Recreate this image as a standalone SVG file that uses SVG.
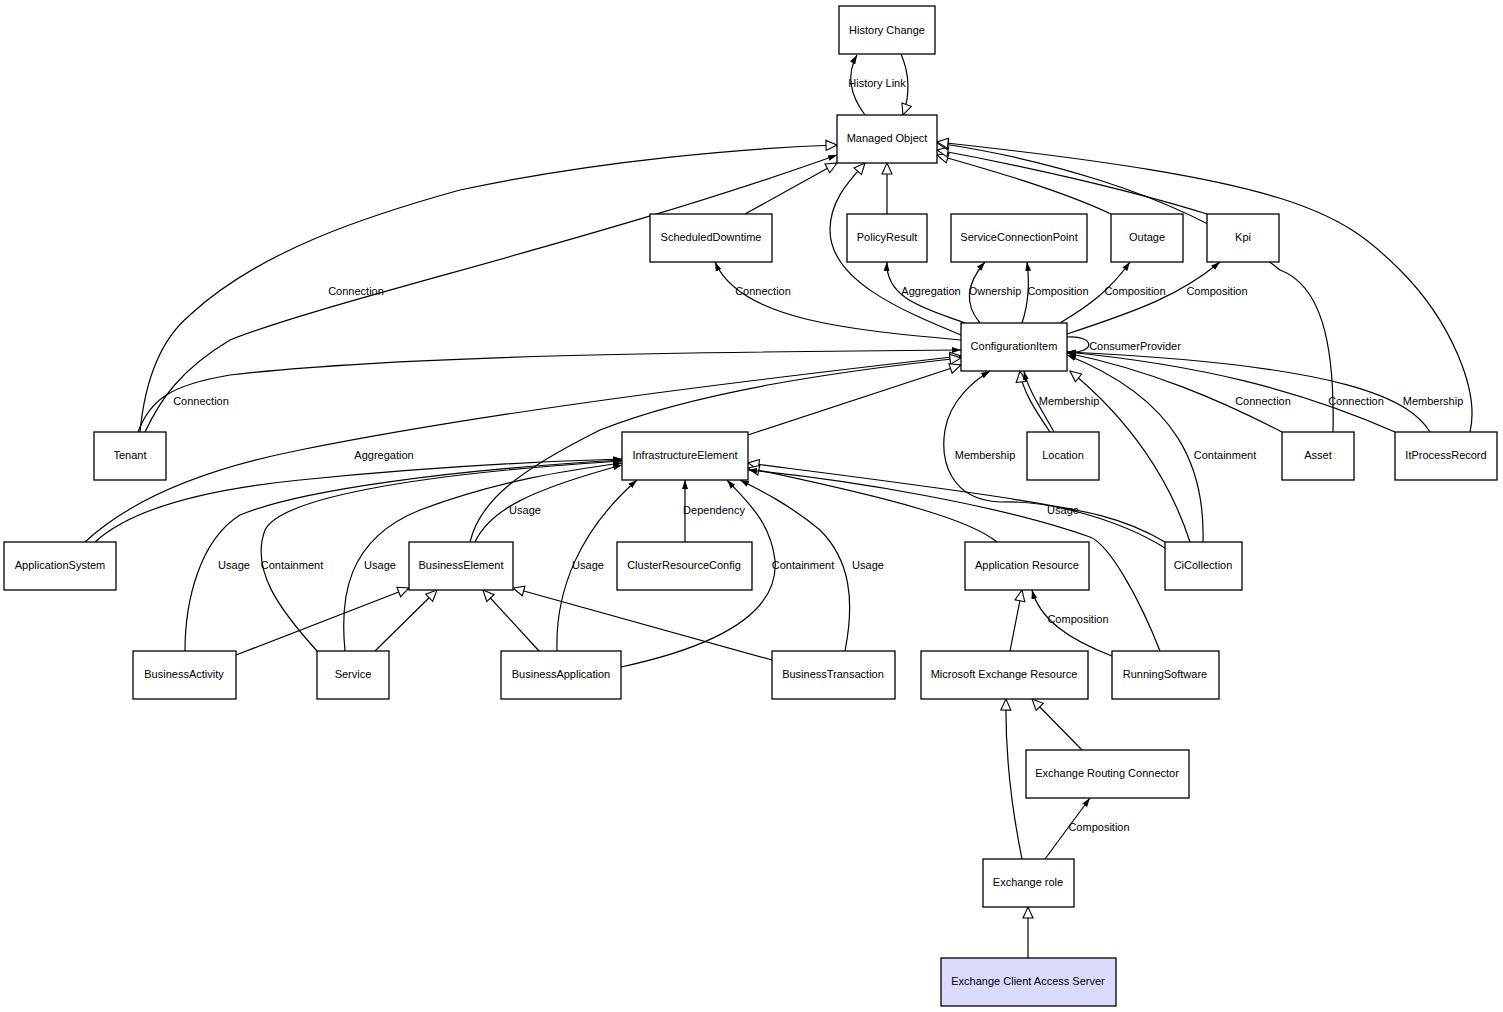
<svg xmlns="http://www.w3.org/2000/svg" width="1503" height="1012" viewBox="0 0 1503 1012">
<style>
.n rect{fill:#fff;stroke:#000;stroke-width:1.3}
.n text,.l{font-family:"Liberation Sans",Arial,sans-serif;font-size:11px;text-anchor:middle;fill:#000}
.e path{fill:none;stroke:#000;stroke-width:1.2}
.g{marker-end:url(#gen)}
.a{marker-end:url(#arr)}
</style>
<defs>
<marker id="gen" markerUnits="userSpaceOnUse" markerWidth="14" markerHeight="14" refX="12" refY="6" orient="auto"><path d="M1,1 L12,6 L1,11 Z" fill="#fff" stroke="#000" stroke-width="1.1"/></marker>
<marker id="arr" markerUnits="userSpaceOnUse" markerWidth="10" markerHeight="8" refX="9" refY="4" orient="auto"><path d="M0,1 L9,4 L0,7 Z" fill="#000"/></marker>
</defs>
<rect width="1503" height="1012" fill="#fff"/>
<g class="e" id="connectors">
<path class="a" d="M865,115 C850,95 846,75 857,55"/>
<path class="g" d="M901,54 C910,75 910,95 903,115"/>
<path class="g" d="M140,432 C145,380 160,340 190,315 C260,250 370,215 460,190 C600,160 750,148 837,145"/>
<path class="a" d="M145,432 C160,400 180,370 230,340 C330,300 600,240 837,155"/>
<path class="g" d="M745,214 L837,163"/>
<path class="g" d="M961,335 C900,310 830,280 830,230 C830,200 850,180 865,163"/>
<path class="g" d="M887,214 L887,163"/>
<path class="g" d="M1111,214 C1060,190 990,170 937,155"/>
<path class="g" d="M1207,214 C1130,190 1020,165 937,150"/>
<path class="g" d="M1333,432 C1335,340 1320,285 1280,270 C1180,190 1020,155 937,143"/>
<path class="g" d="M1470,432 C1480,390 1450,320 1400,270 C1340,210 1290,180 937,142"/>
<path class="a" d="M961,340 C850,330 740,320 715,262"/>
<path class="a" d="M965,323 C930,310 885,300 887,262"/>
<path class="a" d="M980,323 C965,305 965,285 985,262"/>
<path class="a" d="M1022,323 C1028,305 1030,285 1027,262"/>
<path class="a" d="M1060,323 C1090,305 1110,290 1130,262"/>
<path class="a" d="M1067,334 C1140,310 1180,295 1220,262"/>
<path class="a" d="M1067,337 C1095,335 1097,354 1067,352"/>
<path class="a" d="M138,432 C150,400 170,385 230,375 C400,355 700,352 961,350"/>
<path class="g" d="M85,542 C130,500 200,470 300,450 C500,410 750,380 961,356"/>
<path class="g" d="M470,542 C480,500 520,470 600,430 C700,390 850,370 961,358"/>
<path class="g" d="M748,435 L961,365"/>
<path class="g" d="M1050,432 C1035,410 1022,390 1020,371"/>
<path class="a" d="M1054,432 C1042,410 1028,390 1024,371"/>
<path class="a" d="M1165,548 C1120,520 1050,500 1000,502 C950,500 940,460 945,430 C950,400 975,380 990,371"/>
<path class="g" d="M1190,542 C1170,480 1130,420 1070,371"/>
<path class="a" d="M1203,542 C1205,470 1180,400 1067,355"/>
<path class="a" d="M1282,432 C1220,400 1150,370 1067,353"/>
<path class="a" d="M1395,432 C1300,390 1200,365 1067,352"/>
<path class="a" d="M1430,432 C1410,400 1350,365 1067,352"/>
<path class="g" d="M1165,542 C1120,515 1080,510 1000,497 C900,482 800,470 748,463"/>
<path class="g" d="M997,542 C970,520 900,500 748,468"/>
<path class="a" d="M1160,651 C1140,600 1110,545 1090,537 C1000,505 850,480 748,470"/>
<path class="a" d="M845,651 C855,600 850,560 820,530 C790,505 760,490 740,480"/>
<path class="a" d="M621,667 C700,650 780,620 775,560 C770,520 745,500 727,480"/>
<path class="a" d="M557,651 C555,590 580,530 637,480"/>
<path class="a" d="M685,542 L685,480"/>
<path class="a" d="M475,542 C490,510 530,490 622,465"/>
<path class="a" d="M345,651 C340,600 345,540 420,510 C500,480 570,470 622,463"/>
<path class="a" d="M317,651 C280,610 250,570 265,530 C280,500 400,475 622,461"/>
<path class="a" d="M185,651 C185,600 200,540 240,515 C300,490 450,470 622,460"/>
<path class="a" d="M95,542 C130,510 200,490 300,480 C420,468 520,462 622,459"/>
<path class="g" d="M236,655 L409,588"/>
<path class="g" d="M375,651 L437,590"/>
<path class="g" d="M539,651 L483,590"/>
<path class="g" d="M772,660 L513,588"/>
<path class="g" d="M1010,651 L1022,590"/>
<path class="a" d="M1112,656 C1070,640 1040,620 1032,590"/>
<path class="g" d="M1082,750 L1032,699"/>
<path class="g" d="M1022,859 C1012,810 1005,760 1006,699"/>
<path class="a" d="M1045,859 L1090,798"/>
<path class="g" d="M1028,958 L1028,907"/>
</g>
<g id="labels">
<text class="l" x="877" y="87">History Link</text>
<text class="l" x="356" y="295">Connection</text>
<text class="l" x="763" y="295">Connection</text>
<text class="l" x="931" y="295">Aggregation</text>
<text class="l" x="995" y="295">Ownership</text>
<text class="l" x="1058" y="295">Composition</text>
<text class="l" x="1135" y="295">Composition</text>
<text class="l" x="1217" y="295">Composition</text>
<text class="l" x="1135" y="350">ConsumerProvider</text>
<text class="l" x="201" y="405">Connection</text>
<text class="l" x="1069" y="405">Membership</text>
<text class="l" x="1263" y="405">Connection</text>
<text class="l" x="1356" y="405">Connection</text>
<text class="l" x="1433" y="405">Membership</text>
<text class="l" x="384" y="459">Aggregation</text>
<text class="l" x="985" y="459">Membership</text>
<text class="l" x="1225" y="459">Containment</text>
<text class="l" x="525" y="514">Usage</text>
<text class="l" x="714" y="514">Dependency</text>
<text class="l" x="1063" y="514">Usage</text>
<text class="l" x="234" y="569">Usage</text>
<text class="l" x="292" y="569">Containment</text>
<text class="l" x="380" y="569">Usage</text>
<text class="l" x="588" y="569">Usage</text>
<text class="l" x="803" y="569">Containment</text>
<text class="l" x="868" y="569">Usage</text>
<text class="l" x="1078" y="623">Composition</text>
<text class="l" x="1099" y="831">Composition</text>
</g>
<g class="n" id="n-historychange"><rect x="839" y="6" width="96" height="48"/><text x="887" y="34">History Change</text></g>
<g class="n" id="n-managedobject"><rect x="837" y="115" width="100" height="48"/><text x="887" y="142">Managed Object</text></g>
<g class="n" id="n-scheduleddowntime"><rect x="650" y="214" width="122" height="48"/><text x="711" y="241">ScheduledDowntime</text></g>
<g class="n" id="n-policyresult"><rect x="847" y="214" width="80" height="48"/><text x="887" y="241">PolicyResult</text></g>
<g class="n" id="n-scp"><rect x="951" y="214" width="136" height="48"/><text x="1019" y="241">ServiceConnectionPoint</text></g>
<g class="n" id="n-outage"><rect x="1111" y="214" width="72" height="48"/><text x="1147" y="241">Outage</text></g>
<g class="n" id="n-kpi"><rect x="1207" y="214" width="72" height="48"/><text x="1243" y="241">Kpi</text></g>
<g class="n" id="n-ci"><rect x="961" y="323" width="106" height="48"/><text x="1014" y="350">ConfigurationItem</text></g>
<g class="n" id="n-tenant"><rect x="94" y="432" width="72" height="48"/><text x="130" y="459">Tenant</text></g>
<g class="n" id="n-ie"><rect x="622" y="432" width="126" height="48"/><text x="685" y="459">InfrastructureElement</text></g>
<g class="n" id="n-location"><rect x="1027" y="432" width="72" height="48"/><text x="1063" y="459">Location</text></g>
<g class="n" id="n-asset"><rect x="1282" y="432" width="72" height="48"/><text x="1318" y="459">Asset</text></g>
<g class="n" id="n-itprocess"><rect x="1395" y="432" width="102" height="48"/><text x="1446" y="459">ItProcessRecord</text></g>
<g class="n" id="n-appsystem"><rect x="4" y="542" width="112" height="48"/><text x="60" y="569">ApplicationSystem</text></g>
<g class="n" id="n-be"><rect x="409" y="542" width="104" height="48"/><text x="461" y="569">BusinessElement</text></g>
<g class="n" id="n-crc"><rect x="617" y="542" width="135" height="48"/><text x="684" y="569">ClusterResourceConfig</text></g>
<g class="n" id="n-appres"><rect x="965" y="542" width="124" height="48"/><text x="1027" y="569">Application Resource</text></g>
<g class="n" id="n-cicoll"><rect x="1165" y="542" width="77" height="48"/><text x="1203" y="569">CiCollection</text></g>
<g class="n" id="n-bact"><rect x="133" y="651" width="103" height="48"/><text x="184" y="678">BusinessActivity</text></g>
<g class="n" id="n-service"><rect x="317" y="651" width="72" height="48"/><text x="353" y="678">Service</text></g>
<g class="n" id="n-bapp"><rect x="501" y="651" width="120" height="48"/><text x="561" y="678">BusinessApplication</text></g>
<g class="n" id="n-btrans"><rect x="772" y="651" width="123" height="48"/><text x="833" y="678">BusinessTransaction</text></g>
<g class="n" id="n-msexch"><rect x="921" y="651" width="167" height="48"/><text x="1004" y="678">Microsoft Exchange Resource</text></g>
<g class="n" id="n-running"><rect x="1112" y="651" width="107" height="48"/><text x="1165" y="678">RunningSoftware</text></g>
<g class="n" id="n-erc"><rect x="1026" y="750" width="163" height="48"/><text x="1107" y="777">Exchange Routing Connector</text></g>
<g class="n" id="n-exrole"><rect x="983" y="859" width="91" height="48"/><text x="1028" y="886">Exchange role</text></g>
<g class="n" id="n-ecas"><rect x="941" y="958" width="175" height="48" style="fill:#dadafa"/><text x="1028" y="985">Exchange Client Access Server</text></g>
</svg>
